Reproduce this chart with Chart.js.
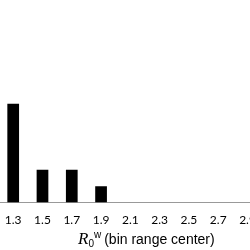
<!DOCTYPE html>
<html>
<head>
<meta charset="utf-8">
<script src="https://cdn.jsdelivr.net/npm/chart.js@4"></script>
<style>
    html, body { margin: 0; padding: 0; background: #fff; }
    #wrap { position: relative; width: 250px; height: 250px; overflow: hidden; }
    #chart-box { position: absolute; left: -5px; top: 0; width: 300px; height: 250px; }
    #x-title {
        position: absolute; left: 78px; top: 229px;
        font-family: "Liberation Sans", Arial, sans-serif; font-size: 14px; color: #000;
        white-space: nowrap;
    }
    #x-title i { font-family: "Liberation Serif", "Times New Roman", serif; font-size: 17px; }
    #x-title sub { font-size: 10px; vertical-align: -3px; }
    #x-title sup { font-size: 10px; vertical-align: 6px; margin-right: 3px; }
</style>
</head>
<body>
<div id="wrap">
    <div id="chart-box"><canvas id="chart"></canvas></div>
    <div id="x-title"><i>R</i><sub>0</sub><sup>w</sup>(bin range center)</div>
</div>
<script>
const binCenters = ["1.3", "1.5", "1.7", "1.9", "2.1", "2.3", "2.5", "2.7", "2.9", "3.1"];
const binCounts = [6, 2, 2, 1, 0, 0, 0, 0, 0, 0];

document.addEventListener("DOMContentLoaded", () => {
    const canvas = document.getElementById("chart");
    new Chart(canvas, {
        type: "bar",
        data: {
            labels: binCenters,
            datasets: [{
                label: "Count",
                data: binCounts,
                backgroundColor: "#000",
                borderWidth: 0,
                categoryPercentage: 1,
                barPercentage: 0.4,
            }],
        },
        options: {
            responsive: true,
            maintainAspectRatio: false,
            animation: false,
            layout: { padding: { top: 5, bottom: 13, left: 0, right: 0 } },
            plugins: {
                legend: { display: false },
                tooltip: { enabled: false },
            },
            scales: {
                x: {
                    grid: { display: false, drawTicks: false },
                    border: { display: true, color: "#999", width: 1 },
                    ticks: {
                        color: "#000",
                        padding: 10,
                        maxRotation: 0,
                        autoSkip: false,
                        font: { family: "Lato, 'Open Sans', sans-serif", size: 12 },
                    },
                },
                y: {
                    display: false,
                    min: 0,
                    max: 12,
                },
            },
        },
    });
});
</script>
</body>
</html>
